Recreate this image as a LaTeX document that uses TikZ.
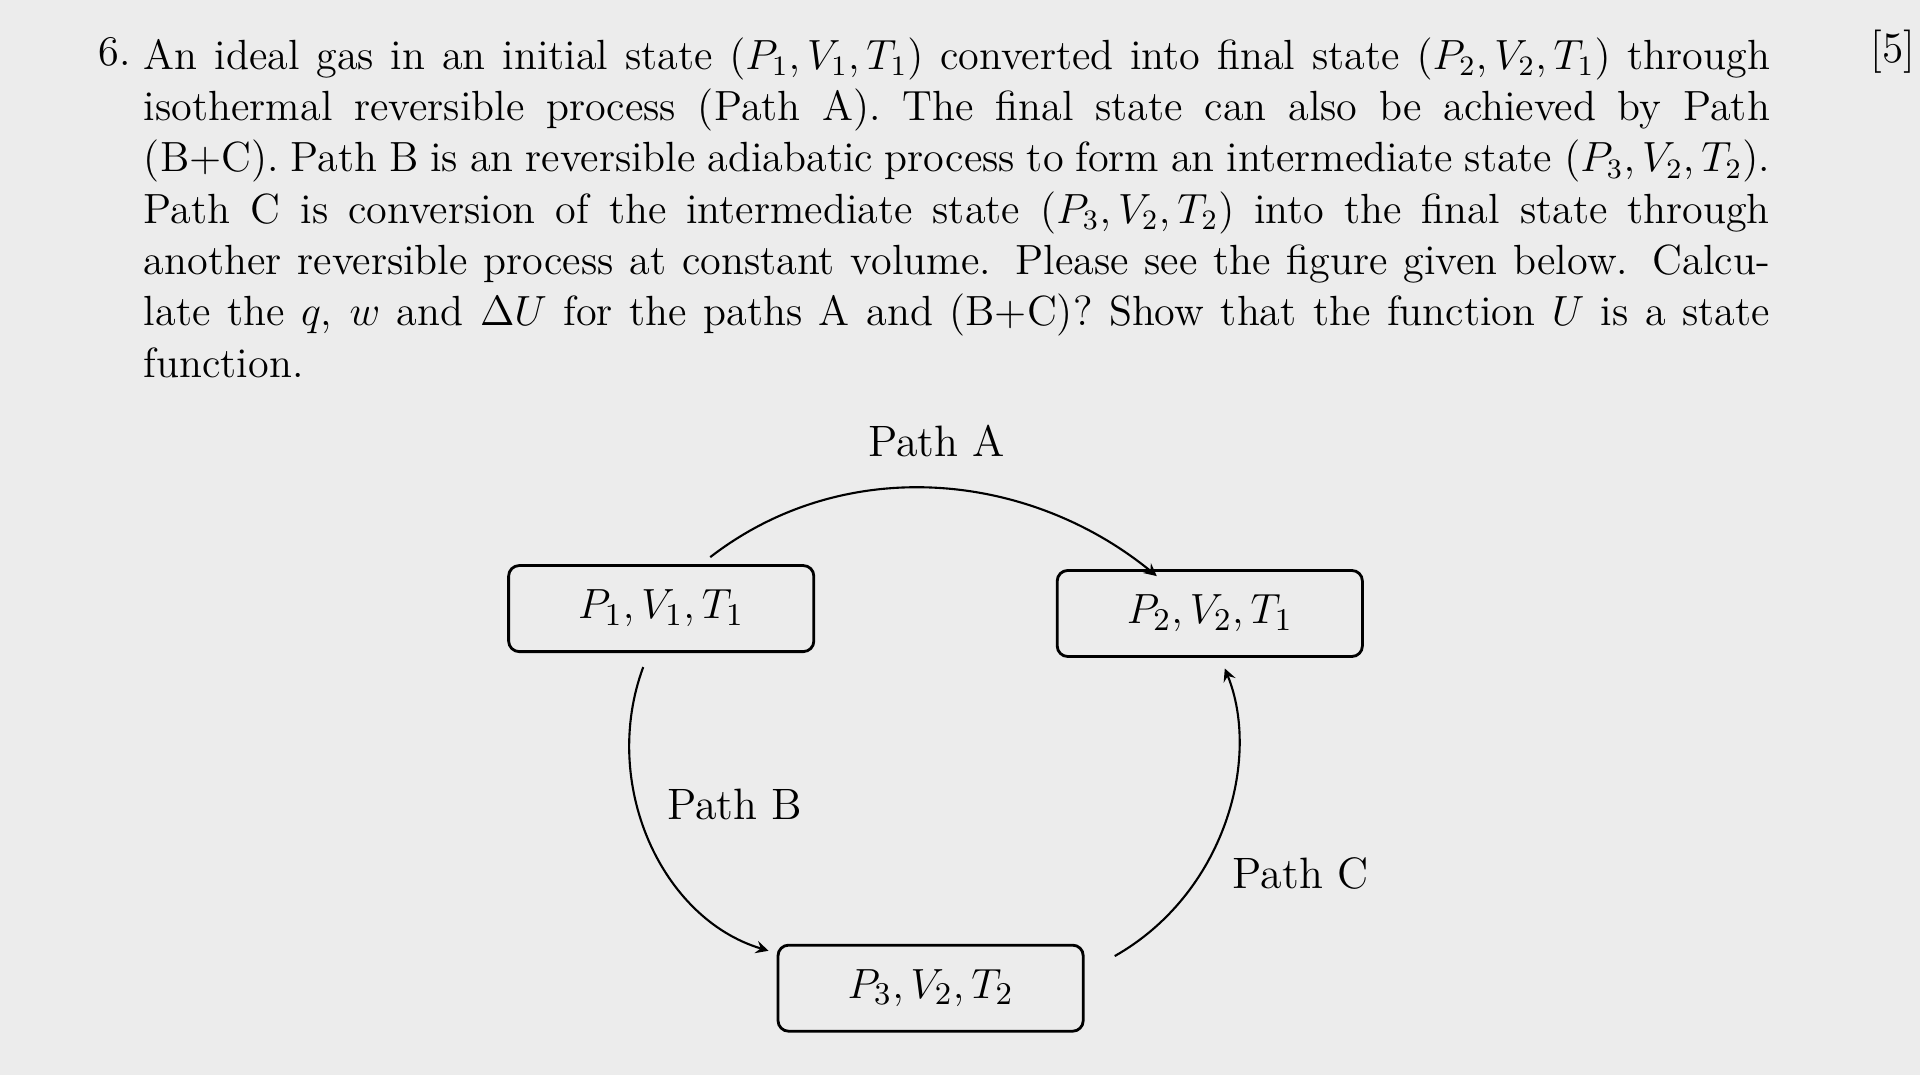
\documentclass[tikz,border=0pt]{standalone}
\usepackage{amsmath}
\begin{document}
\begin{tikzpicture}[x=0.012245cm,y=-0.012245cm,
    statebox/.style={draw,thick,rounded corners=3pt,minimum width=3.05cm,minimum height=0.86cm,font=\fontsize{12.5}{14}\selectfont},
    pathlabel/.style={font=\fontsize{12.5}{14}\selectfont},
    flow/.style={->,>=stealth,semithick}]
    \fill[gray!15] (0,0) rectangle (1568,878);
    \useasboundingbox (0,0) rectangle (1568,878);
    \node[anchor=north west,inner sep=0pt] (num) at (80,30) {\fontsize{12}{14.6}\selectfont 6.};
    \node[anchor=north west,inner sep=0pt,text width=16.25cm,align=justify,font=\fontsize{12}{14.6}\selectfont] (question) at (117,30)
      {An ideal gas in an initial state $(P_1,V_1,T_1)$ converted into final state $(P_2,V_2,T_1)$ through\linebreak
       isothermal reversible process (Path A). The final state can also be achieved by Path\linebreak
       (B+C). Path B is an reversible adiabatic process to form an intermediate state $(P_3,V_2,T_2)$.\linebreak
       Path C is conversion of the intermediate state $(P_3,V_2,T_2)$ into the final state through\linebreak
       another reversible process at constant volume. Please see the figure given below. Calcu-\linebreak
       late the $q$, $w$ and $\Delta U$ for the paths A and (B+C)? Show that the function $U$ is a state\linebreak
       function.};
    \node[font=\fontsize{12.3}{14}\selectfont] (marks) at (1546,42) {[5]};
    \node[statebox] (s1) at (540,497) {$P_1,V_1,T_1$};
    \node[statebox] (s2) at (988,501) {$P_2,V_2,T_1$};
    \node[statebox] (s3) at (760,807) {$P_3,V_2,T_2$};
    \node[pathlabel] (pa) at (765,360) {Path A};
    \node[pathlabel] (pb) at (600,657) {Path B};
    \node[pathlabel] (pc) at (1062,713) {Path C};
    \draw[flow] ([xshift=0.49cm,yshift=2pt]s1.north) .. controls (690,370) and (840,385) .. ([xshift=-0.53cm,yshift=-2pt]s2.north);
    \draw[flow] ([xshift=-0.18cm,yshift=-4pt]s1.south) .. controls (490,640) and (540,750) .. ([xshift=-1.62cm,yshift=-2pt]s3.north);
    \draw[flow] ([xshift=1.84cm,yshift=-3.5pt]s3.north) .. controls (1000,730) and (1030,620) .. ([xshift=0.15cm,yshift=-3pt]s2.south);
\end{tikzpicture}
\end{document}
